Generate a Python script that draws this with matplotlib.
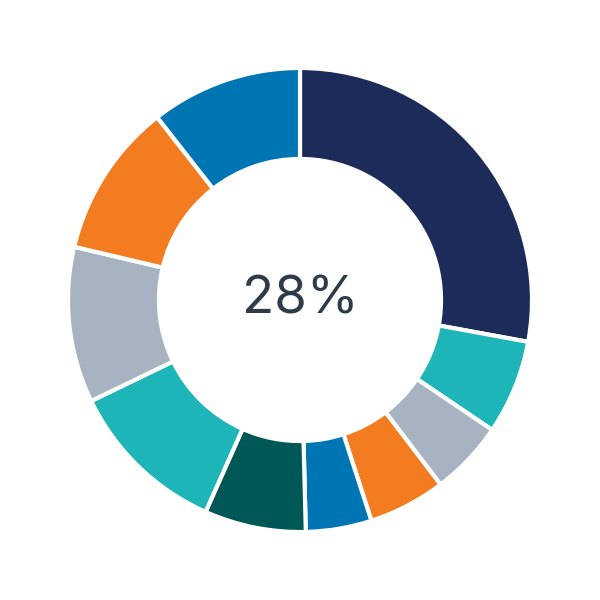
import matplotlib
matplotlib.use("Agg")
import matplotlib.pyplot as plt

values = [28, 6.6, 5.2, 5.4, 4.6, 7.1, 11.2, 10.9, 10.8, 10.6]
colors = ["#1c2b5a", "#1db5b8", "#a8b3c2", "#f47c20", "#0075b4",
          "#005856", "#1db5b8", "#a8b3c2", "#f47c20", "#0075b4"]
center_label = "28%"

fig = plt.figure(figsize=(6, 6), dpi=100)
ax = fig.add_axes([0, 0, 1, 1])
ax.pie(values, colors=colors, startangle=90, counterclock=False, radius=1,
       wedgeprops=dict(width=0.392, edgecolor="white", linewidth=3))
lim = 300 / 232
ax.set_xlim(-lim, lim)
ax.set_ylim(-lim, lim)
ax.set_aspect("equal")
ax.axis("off")
ax.text(0, 0, center_label, ha="center", va="center", fontsize=38,
        color="#2e3b4a", family=["Inter", "DejaVu Sans"], fontweight="normal")
fig.savefig("out.png", dpi=100)
